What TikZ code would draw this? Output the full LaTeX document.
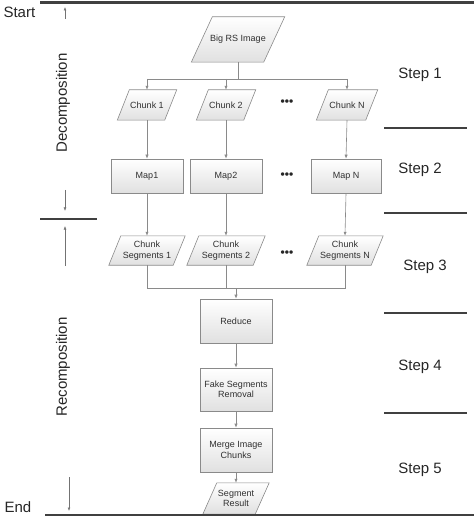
\documentclass[tikz,border=0pt]{standalone}
\usepackage{fontspec}
\setmainfont{Liberation Sans}
\usetikzlibrary{arrows.meta,calc,backgrounds}
\definecolor{boxline}{HTML}{8A8A8A}
\definecolor{boxtxt}{HTML}{303030}
\definecolor{rulecol}{HTML}{404040}
\tikzset{
  boxfill/.style={draw=boxline, line width=0.6pt, top color=white, bottom color=black!12},
  boxtext/.style={text=boxtxt, font=\fontsize{9}{10.5}\selectfont, align=center, inner sep=1pt},
  procbox/.style={boxfill, boxtext, rectangle, minimum width=72pt},
  datatext/.style={boxtext, draw=none, rectangle},
  conn/.style={draw=boxline, line width=0.6pt},
  arr/.style={conn, -{Latex[length=4pt,width=3.2pt]}},
  sidearr/.style={draw=black!55, line width=0.5pt, -{Latex[length=3.5pt,width=2.8pt]}},
  bar/.style={draw=rulecol, line width=2.6pt},
  steplbl/.style={font=\fontsize{15}{15}\selectfont, text=black!85},
  dots/.style={font=\fontsize{12}{12}\selectfont\bfseries, text=black!85},
}
% parallelogram frame behind a named text node: #1 node, #2 half slant
\newcommand\paraframe[2]{%
  \begin{scope}[on background layer]
    \path[boxfill] ($(#1.south west)+(-#2,0)$) -- ($(#1.north west)+(#2,0)$)
      -- ($(#1.north east)+(#2,0)$) -- ($(#1.south east)+(-#2,0)$) -- cycle;
  \end{scope}}
\begin{document}
\begin{tikzpicture}[x=1pt,y=-1pt]
\useasboundingbox (0,0) rectangle (474,518);
% rules
\coordinate (t0) at (40,2.5); \coordinate (t1) at (474,2.5);
\draw[bar] (t0) -- (t1);
\coordinate (m0) at (40,219); \coordinate (m1) at (97,219);
\draw[bar] (m0) -- (m1);
\coordinate (b0) at (45,515); \coordinate (b1) at (474,515);
\draw[bar] (b0) -- (b1);
\foreach \y/\n in {128/r1,213/r2,313/r3,413/r4}{
  \coordinate (\n a) at (384,\y); \coordinate (\n b) at (467,\y);
  \draw[bar] (\n a) -- (\n b);
}
% left labels
\node[steplbl, anchor=west] (start) at (0,12) {Start};
\node[steplbl, anchor=west] (end) at (1,507) {End};
\node[steplbl, rotate=90] (decomp) at (63,103) {Decomposition};
\node[steplbl, rotate=90] (recomp) at (63,367) {Recomposition};
\coordinate (a1s) at (65,19); \coordinate (a1e) at (65,7);
\draw[sidearr] (a1s) -- (a1e);
\coordinate (a2s) at (65,190); \coordinate (a2e) at (65,211);
\draw[sidearr] (a2s) -- (a2e);
\coordinate (a3s) at (65,266); \coordinate (a3e) at (65,226);
\draw[sidearr] (a3s) -- (a3e);
\coordinate (a4s) at (69,477); \coordinate (a4e) at (69,511);
\draw[sidearr] (a4s) -- (a4e);
% step labels
\node[steplbl] (s1) at (420,75) {Step 1};
\node[steplbl] (s2) at (420,170) {Step 2};
\node[steplbl] (s3) at (425,267) {Step 3};
\node[steplbl] (s4) at (420,367) {Step 4};
\node[steplbl] (s5) at (420,470) {Step 5};
% flowchart
\node[datatext, minimum width=72pt, minimum height=45pt] (big) at (238,39.5) {Big RS Image};
\paraframe{big}{10.5}
\node[datatext, minimum width=47pt, minimum height=30pt] (c1) at (147,105) {Chunk 1};
\paraframe{c1}{6}
\node[datatext, minimum width=47pt, minimum height=30pt] (c2) at (226,105) {Chunk 2};
\paraframe{c2}{6}
\node[datatext, minimum width=49pt, minimum height=30pt] (cN) at (347,105) {Chunk N};
\paraframe{cN}{6}
\node[dots] (d1) at (287,103) {•••};
\node[procbox, minimum height=34pt] (m1b) at (147,176) {Map1};
\node[procbox, minimum height=34pt] (m2b) at (226,176) {Map2};
\node[procbox, minimum width=70pt, minimum height=34pt] (mNb) at (346,176) {Map N};
\node[dots] (d2) at (287,176) {•••};
\node[datatext, minimum width=64pt, minimum height=29pt] (g1) at (147,250.5) {Chunk\\Segments 1};
\paraframe{g1}{6}
\node[datatext, minimum width=66pt, minimum height=29pt] (g2) at (226,250.5) {Chunk\\Segments 2};
\paraframe{g2}{6}
\node[datatext, minimum width=64pt, minimum height=29pt] (gN) at (345,250.5) {Chunk\\Segments N};
\paraframe{gN}{6}
\node[dots] (d3) at (287,254) {•••};
\node[procbox, minimum height=44pt] (red) at (236,321) {Reduce};
\node[procbox, minimum height=43pt] (fake) at (236,389.5) {Fake Segments\\Removal};
\node[procbox, minimum height=44pt] (merge) at (236,450) {Merge Image\\Chunks};
\node[datatext, minimum width=52pt, minimum height=31pt] (res) at (236,498.5) {Segment\\Result};
\paraframe{res}{7}
% connectors
\coordinate (bus1) at (0,79);
\draw[conn] (big.south) -- (big.south |- bus1);
\draw[conn] (c1 |- bus1) -- (cN |- bus1);
\draw[arr] (c1 |- bus1) -- (c1.north);
\draw[arr] (c2 |- bus1) -- (c2.north);
\draw[arr] (cN |- bus1) -- (cN.north);
\draw[arr] (c1.south) -- (m1b.north);
\draw[arr] (c2.south) -- (m2b.north);
\draw[arr] (cN.south) -- (mNb.north);
\draw[arr] (m1b.south) -- (g1.north);
\draw[arr] (m2b.south) -- (g2.north);
\draw[arr] (mNb.south) -- (gN.north);
\coordinate (bus2) at (0,288);
\draw[conn] (g1.south) -- (g1.south |- bus2) -- (gN.south |- bus2) -- (gN.south);
\draw[conn] (g2.south) -- (g2.south |- bus2);
\draw[arr] (red |- bus2) -- (red.north);
\draw[arr] (red.south) -- (fake.north);
\draw[arr] (fake.south) -- (merge.north);
\draw[arr] (merge.south) -- (res.north);
\end{tikzpicture}
\end{document}
